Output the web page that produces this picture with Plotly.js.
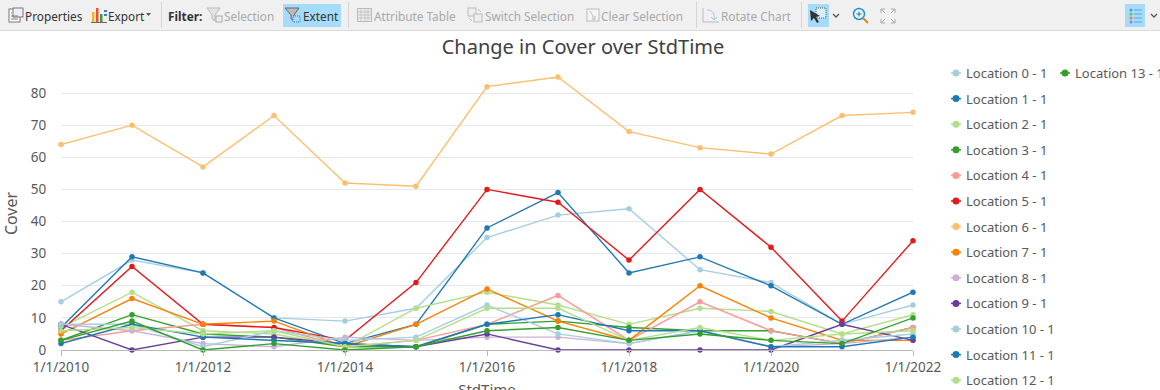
<!DOCTYPE html>
<html><head><meta charset="utf-8">
<script src="https://cdn.plot.ly/plotly-3.0.1.min.js"></script>
<style>
html,body{margin:0;padding:0;background:#fff;overflow:hidden}
#chart{position:absolute;left:0;top:0;width:1160px;height:390px}
#bar{position:absolute;left:0;top:0;width:1160px;height:31px;background:#f0f0f1;border-bottom:1px solid #dcdcdc;box-sizing:border-box;font:11.8px "Noto Sans",sans-serif;color:#333}
#bar span,#bar div,#bar svg{position:absolute}
#bar span{top:8px;white-space:nowrap;line-height:16px}
.off{color:#a8a8a8}
.sep{top:2px;width:1px;height:26px;background:#d4d4d4}
.hi{top:4px;height:23px;background:#a6dcfb}
</style></head><body>
<div id="chart"></div>
<div id="bar">
<svg style="left:8px;top:7px" width="16" height="16"><rect x="1" y="2" width="11" height="13" fill="#fff" stroke="#777"/><rect x="5" y="1" width="10" height="9" fill="#eef" stroke="#777"/><path d="M3 6h1M3 9h7M3 12h7" stroke="#777"/></svg>
<span style="left:25px">Properties</span>
<svg style="left:91px;top:6px" width="17" height="18"><rect x="1" y="6" width="2.5" height="10" fill="#f0b429"/><rect x="5" y="2" width="2.5" height="14" fill="#e8542f"/><rect x="9" y="8" width="2.5" height="8" fill="#3a9e3f"/><path d="M13 5h3M13 9h3" stroke="#3a7bd0" stroke-width="2"/><path d="M0 16.5h16" stroke="#666"/></svg>
<span style="left:108px">Export</span>
<svg style="left:146px;top:13px" width="6" height="4"><path d="M0 0h5l-2.500 3z" fill="#555"/></svg>
<div class="sep" style="left:161px"></div>
<span style="left:168px;font-weight:700">Filter:</span>
<svg style="left:206px;top:6px" width="18" height="18"><path d="M1 2h13l-5 7v6l-3-2V9z" fill="#e2e2e2" stroke="#bbb"/><rect x="10" y="10" width="6" height="6" fill="#e6f0f4" stroke="#aaa"/></svg>
<span class="off" style="left:224px">Selection</span>
<div class="hi" style="left:283px;width:58px"></div>
<svg style="left:284px;top:6px" width="18" height="18"><path d="M1 2h14l-5 7v6l-3-2V9z" fill="#bbb" stroke="#666"/><rect x="9" y="10" width="7" height="6" fill="#a6dcfb" stroke="#37a" stroke-dasharray="1 1"/></svg>
<span style="left:303px">Extent</span>
<div class="sep" style="left:348px"></div>
<svg style="left:357px;top:8px" width="15" height="14"><rect x=".5" y=".5" width="14" height="13" fill="#eee" stroke="#bbb"/><path d="M.5 4h14M.5 7h14M.5 10h14M4 1v12M8 1v12M11 1v12" stroke="#c4c4c4"/></svg>
<span class="off" style="left:374px">Attribute Table</span>
<svg style="left:467px;top:7px" width="17" height="17"><rect x="1" y="1" width="8" height="8" fill="#eee" stroke="#bbb"/><rect x="7" y="7" width="8" height="8" fill="#eee" stroke="#bbb"/><path d="M11 2l3 3M2 11l3 3" stroke="#bbb"/></svg>
<span class="off" style="left:485px">Switch Selection</span>
<svg style="left:586px;top:8px" width="15" height="15"><rect x="1" y="1" width="12" height="12" fill="#f4f4f4" stroke="#bbb"/><path d="M4 3l3 5v4l2-1V8" fill="none" stroke="#bbb"/></svg>
<span class="off" style="left:601px">Clear Selection</span>
<div class="sep" style="left:696px"></div>
<svg style="left:702px;top:7px" width="18" height="17"><path d="M1 1v14h16" fill="none" stroke="#bbb"/><path d="M5 3c6 0 8 4 7 9m-3-2l3 3 3-3" fill="none" stroke="#9cc8e6"/></svg>
<span class="off" style="left:721px">Rotate Chart</span>
<div class="sep" style="left:801px"></div>
<div class="hi" style="left:808px;width:21px"></div>
<svg style="left:808px;top:7px" width="21" height="18"><rect x="8" y="1" width="10" height="10" fill="#d8eef9" stroke="#555" stroke-dasharray="1 1"/><path d="M2 3l10 6-4 1 3 5-2 1-3-5-3 3z" fill="#333"/></svg>
<svg style="left:832px;top:13px" width="8" height="6"><path d="M1 1l3 3 3-3" fill="none" stroke="#555" stroke-width="1.300"/></svg>
<svg style="left:852px;top:7px" width="18" height="18"><circle cx="7" cy="7" r="5.500" fill="#e8f5fc" stroke="#2a8fc9" stroke-width="1.500"/><path d="M4.500 7h5M7 4.500v5" stroke="#2a6f9f"/><path d="M11 11l5 5" stroke="#c98a2a" stroke-width="2"/></svg>
<svg style="left:880px;top:8px" width="16" height="16"><path d="M1 5V1h4M11 1h4v4M15 11v4h-4M5 15H1v-4M1 1l4 4M15 1l-4 4M15 15l-4-4M1 15l4-4" fill="none" stroke="#a8a8a8"/></svg>
<div class="hi" style="left:1125px;width:20px"></div>
<svg style="left:1125px;top:6px" width="20" height="20"><circle cx="6" cy="4" r="1.500" fill="#5b9bd5"/><circle cx="6" cy="8" r="1.500" fill="#6abf4b"/><circle cx="6" cy="12" r="1.500" fill="#e0803a"/><circle cx="6" cy="16" r="1.500" fill="#9a7fc0"/><path d="M9 4h8M9 8h8M9 12h8M9 16h8" stroke="#5aa5d8"/></svg>
<svg style="left:1150px;top:13px" width="8" height="6"><path d="M1 1l3 3 3-3" fill="none" stroke="#555" stroke-width="1.300"/></svg>
</div>
<script>
const categories=["1/1/2010","1/1/2011","1/1/2012","1/1/2013","1/1/2014","1/1/2015","1/1/2016","1/1/2017","1/1/2018","1/1/2019","1/1/2020","1/1/2021","1/1/2022"];
const location0=[15,28,24,10,9,13,35,42,44,25,21,8,14];
const location1=[7,29,24,10,2,8,38,49,24,29,20,8,18];
const location2=[7,18,6,5,1,13,18,14,8,13,12,5,11];
const location3=[3,11,5,4,1,1,8,9,7,6,6,2,7];
const location4=[3,6,8,7,1,3,8,17,3,15,6,2,7];
const location5=[6,26,8,7,3,21,50,46,28,50,32,9,34];
const location6=[64,70,57,73,52,51,82,85,68,63,61,73,74];
const location7=[5,16,8,9,1,8,19,9,3,20,10,3,3];
const location8=[8,6,2,1,4,3,4,4,2,6,1,2,4];
const location9=[8,0,4,4,2,1,5,0,0,0,0,8,3];
const location10=[8,8,1,6,3,4,14,5,2,6,1,3,5];
const location11=[2,8,4,3,2,1,8,11,6,6,1,1,4];
const location12=[6,7,5,6,1,3,13,13,3,7,3,5,6];
const location13=[3,9,0,2,0,1,6,7,3,5,3,2,10];
const seriesValues=[location0,location1,location2,location3,location4,location5,location6,location7,location8,location9,location10,location11,location12,location13];
const seriesNames=["Location 0 - 1","Location 1 - 1","Location 2 - 1","Location 3 - 1","Location 4 - 1","Location 5 - 1","Location 6 - 1","Location 7 - 1","Location 8 - 1","Location 9 - 1","Location 10 - 1","Location 11 - 1","Location 12 - 1","Location 13 - 1"];
const colors=["#a6cee3","#1f78b4","#b2df8a","#33a02c","#fb9a99","#e31a1c","#fdbf6f","#ff7f00","#cab2d6","#6a3d9a","#a6cee3","#1f78b4","#b2df8a","#33a02c"];
const FONT='"Noto Sans", sans-serif', TXT='#595959';
const L=61,R=913,T=77,B=350;
const px=v=>(v-L)/(R-L), py=v=>(B-v)/(B-T);
const traces=seriesValues.map((v,i)=>({type:'scatter',mode:'lines+markers',x:categories,y:v,name:seriesNames[i],line:{color:colors[i],width:1.4},marker:{color:colors[i],size:5.5},cliponaxis:false,showlegend:false}));
const annotations=[],shapes=[];
seriesNames.forEach((n,i)=>{
  const col=i<13?0:1, row=i<13?i:0;
  const mx=col?1065:956, tx=col?1075:966, y=73+row*25.6;
  shapes.push({type:'line',xref:'paper',yref:'paper',x0:px(mx-5),x1:px(mx+5),y0:py(y),y1:py(y),line:{color:colors[i],width:1.5}});
  shapes.push({type:'circle',xref:'paper',yref:'paper',x0:px(mx-3.5),x1:px(mx+3.5),y0:py(y-3.5),y1:py(y+3.5),fillcolor:colors[i],line:{width:0}});
  annotations.push({xref:'paper',yref:'paper',x:px(tx),y:py(y),xanchor:'left',yanchor:'middle',showarrow:false,text:n,xshift:-2,font:{family:FONT,size:13,color:TXT}});
});
Plotly.newPlot('chart',traces,{
  width:1160,height:390,margin:{l:L,r:1160-R,t:T,b:390-B},
  paper_bgcolor:'#fff',plot_bgcolor:'#fff',showlegend:false,hovermode:false,
  title:{text:'Change in Cover over StdTime',font:{family:FONT,size:20,color:'#404040'}},
  xaxis:{type:'category',range:[0,12],tickmode:'array',tickvals:categories.filter((c,i)=>i%2==0),showgrid:false,zeroline:false,showline:true,linecolor:'#b8b8b8',linewidth:1,ticks:'outside',ticklen:5,tickcolor:'#b8b8b8',tickfont:{family:FONT,size:13.5,color:TXT},title:{text:'StdTime',font:{family:FONT,size:15,color:TXT}}},
  yaxis:{range:[0,85],tick0:0,dtick:10,showgrid:true,gridcolor:'#e8e8e8',zeroline:false,showline:false,ticks:'outside',ticklen:11,tickcolor:'rgba(0,0,0,0)',tickfont:{family:FONT,size:13.5,color:TXT},title:{text:'Cover',font:{family:FONT,size:16,color:TXT}}},
  annotations,shapes
},{displayModeBar:false,staticPlot:true}).then(gd=>{
  const t=gd.querySelector('.gtitle');
  if(t){t.setAttribute('x',583);t.setAttribute('y',54);t.setAttribute('text-anchor','middle');}
  const xt=gd.querySelector('.xtitle');
  if(xt){xt.setAttribute('transform','translate(0,9) '+(xt.getAttribute('transform')||''));}
  const yt=gd.querySelector('.ytitle');
  if(yt){yt.setAttribute('transform','translate(-2,0) '+(yt.getAttribute('transform')||''));}
});
</script>
</body></html>
